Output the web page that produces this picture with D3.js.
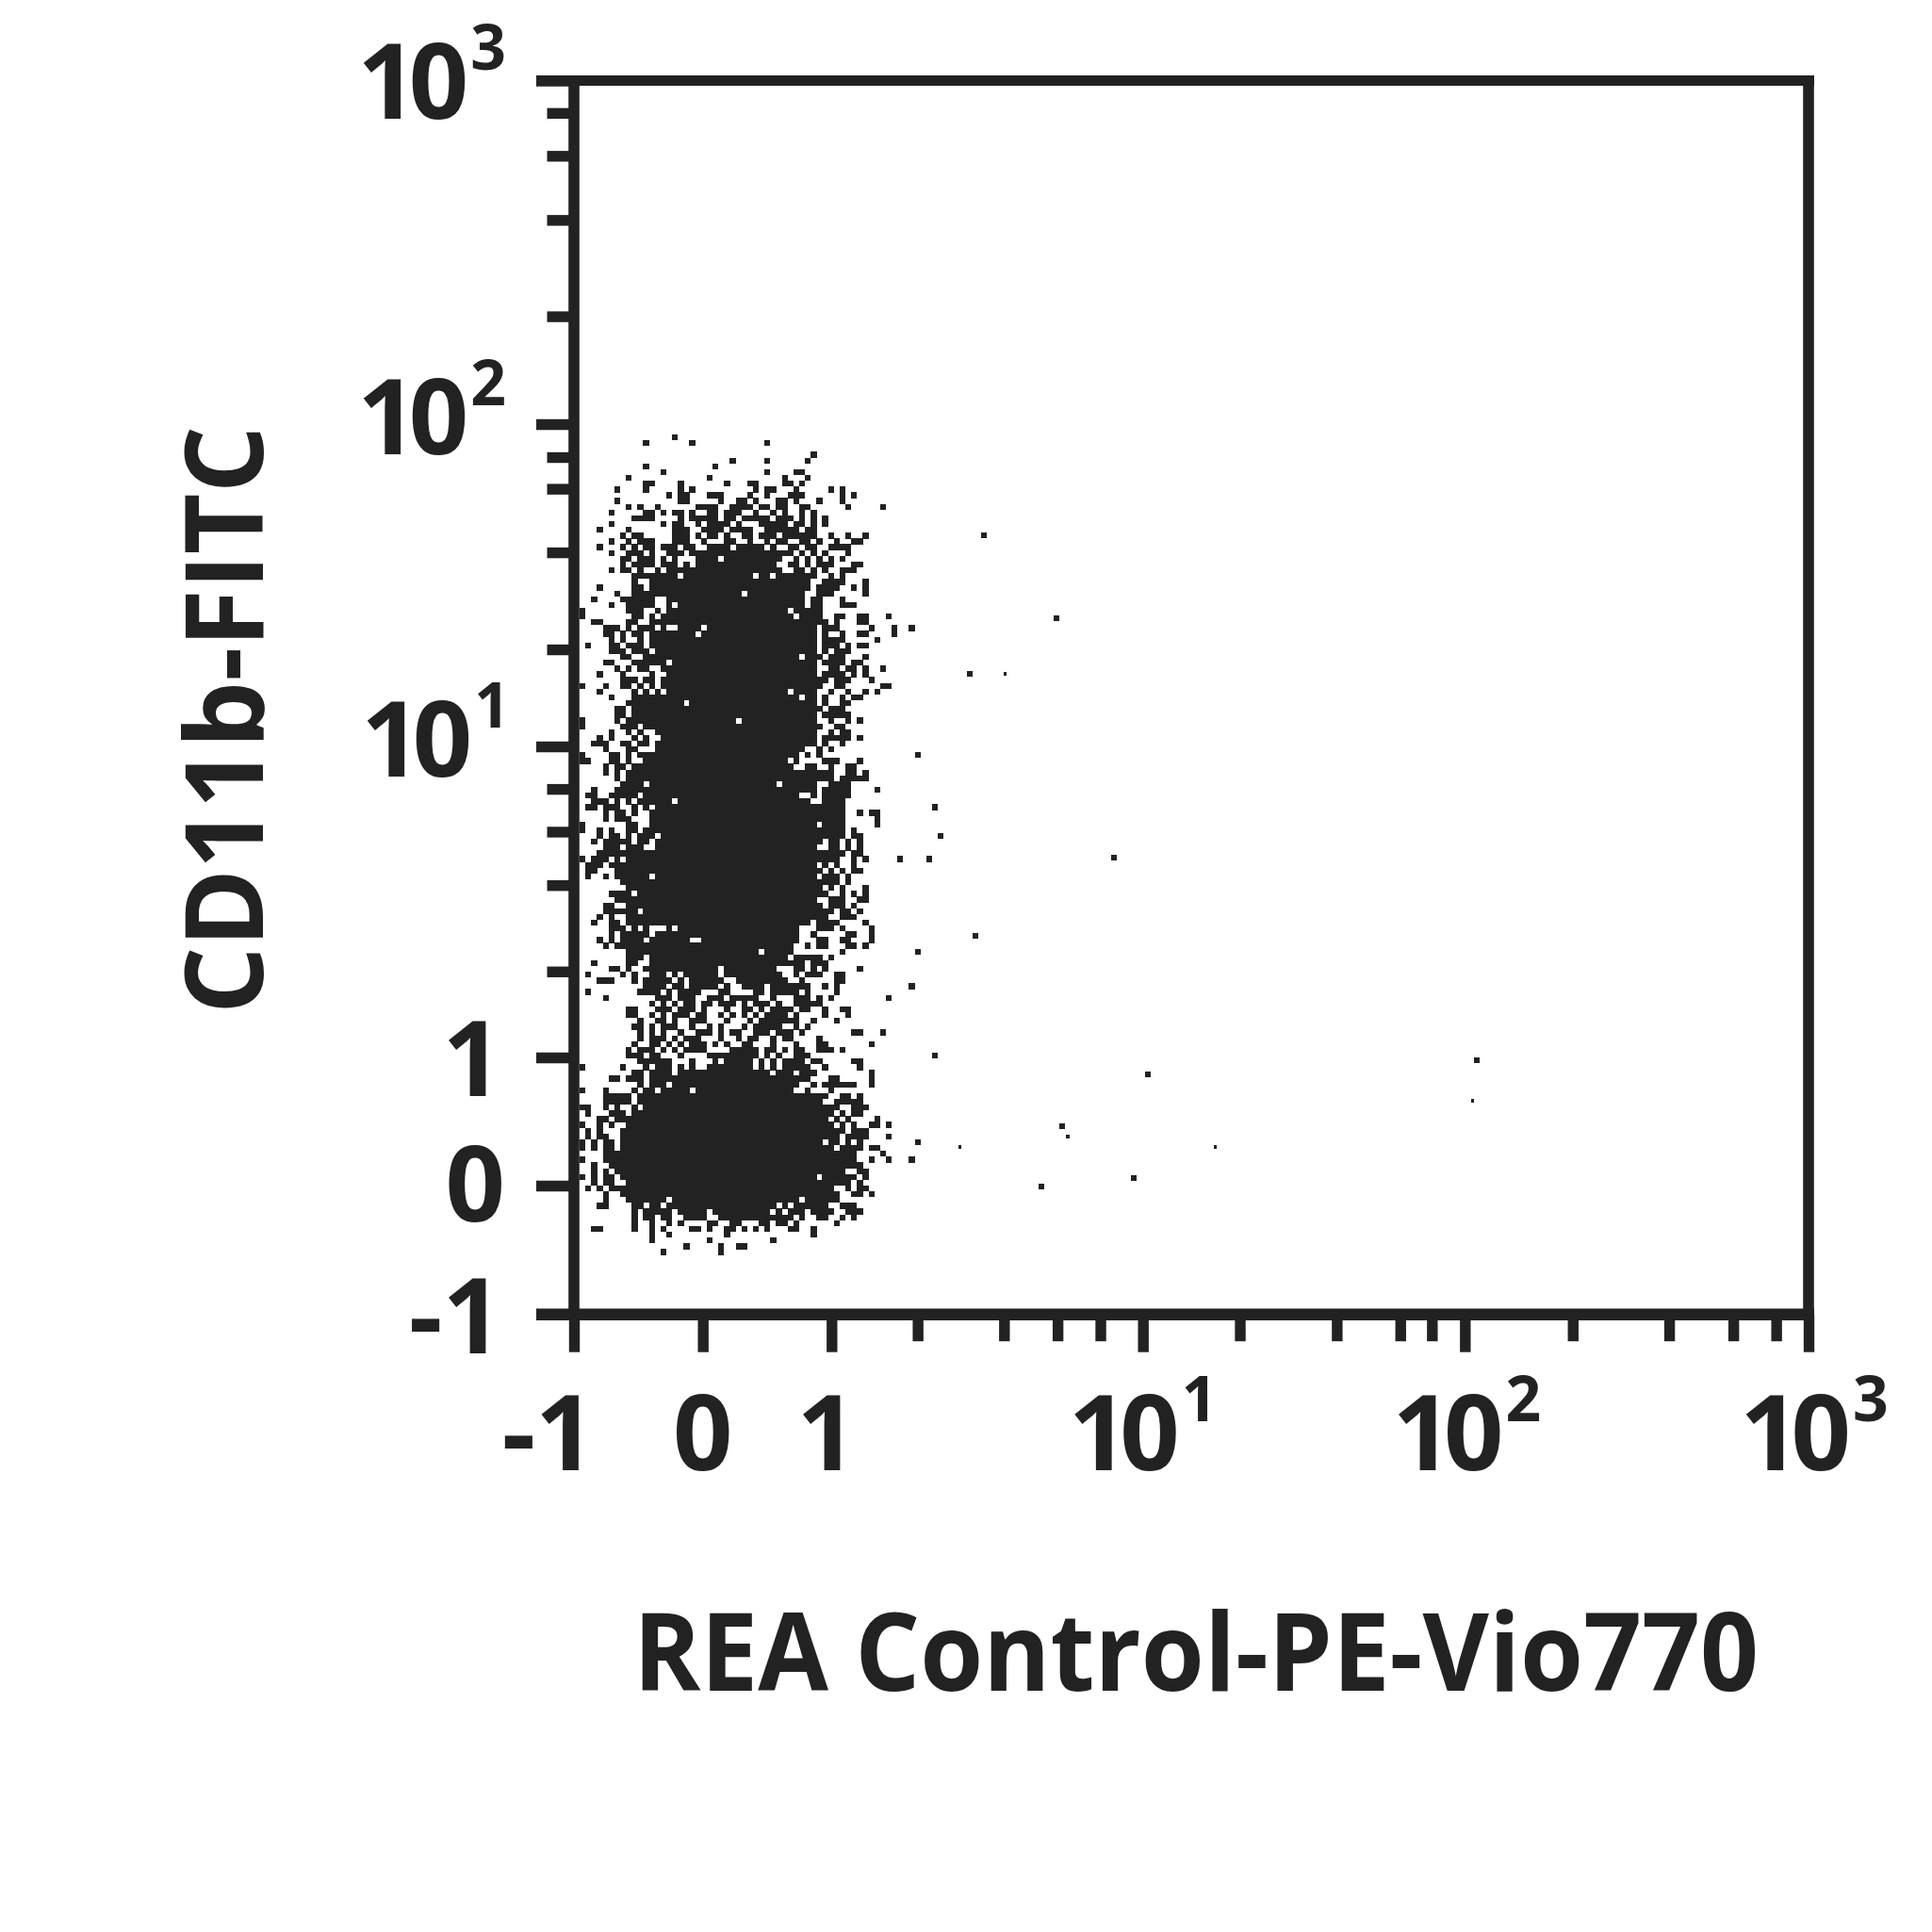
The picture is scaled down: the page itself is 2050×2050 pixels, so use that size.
<!DOCTYPE html>
<html><head><meta charset="utf-8">
<script src="https://cdn.jsdelivr.net/npm/d3@7/dist/d3.min.js"></script>
<style>html,body{margin:0;padding:0;background:#fff}svg{display:block}</style></head>
<body><svg id="c" width="2050" height="2050"></svg>
<script>
const xTitle = "REA Control-PE-Vio770";
const yTitle = "CD11b-FITC";
const majorTicks = [-1, 0, 1, 10, 100, 1000];
const minorTicks = [1.89, 3.58, 5.32, 7.3, 20, 40, 63, 79, 206, 393, 604, 805];
const tickLabels = [["-1",""],["0",""],["1",""],["10","1"],["10","2"],["10","3"]];

// occupied density-plot bins, one entry per bin row (top to bottom), as column runs
const binRows = [
"16","11 19 32","","40","26 32 39","11 23","14 32 37 38","8 22 35 39",
"11 12 17 25 29 30 35 36 38","6 11 17 19 30 32 33 37 43 45",
"15 17 18 22-24 29 32 36-38 45 47","6 17 18 24 27 28 30 34 35 37 41 45",
"8 10 13 20-23 26-29 31 32 34 35 38 39 46 52","5 11 12 14 16 17 19 22 23 25-27 30 33 35 38 40",
"9-12 17 19-23 25 26 28-32 34-36 38 40 42","5 14 16 17 20 22-25 27 31-35 37 38 40 42",
"3 8 16-18 21-24 26-29 32-37 39 40","7 9 10 16-18 20 22 23 25 28 29 31-33 35-40 43 46 49",
"5 8 10-12 16-18 21 25 26 29 32 34 35 38 39 41 44 47 48","3 7 9 11 12 14-16 18 19 22-25 27-31 33 36 37 39 40 43-46",
"5 8-10 12 15-17 19-36 38 40 42 46","7 8 10-12 14 16 20-23 25-34 37 39 41 43 45",
"7 9-12 14-16 18 20-33 36 37 39 41-43 47 48","5 7 8 10 13 15-34 37 38 40 42 45-47",
"9-16 18-29 31 32 34-40 43 45","9 12-39 42-45 49",
"3 9 10 12-39 41-44 47 49","6 9-27 29-38 41-43 49",
"2 7-12 15-38 40 41 45","5 8-12 15 17-38 40 41 45-47",
"0 8-10 13 15-35 37-41","0 9 10 12 14-36 38-41 44 45 48 49 53",
"2 3 8 9 12-42 44 48 49","4-6 8 10-12 14 17-20 22-40 42-44 50 54 57",
"4 5 7 9 10 12-19 21-40 42 45 48 49 54","5 7 10 12-40 42-45 51",
"1 5 6 8-10 12-40 42-44 46 48 49","5-7 9-11 13-40 42 44-46",
"7 8 11-37 39-41 43-45 49","4 5 9-14 16-40 42-45 47 48",
"6 8 10 11 14-40 43 44 46 47 49 52","3 7 12 15-40 42-45 47 49",
"7-9 11 12 14-42 44-46 50","0 4 7 8 10 12 14-41 44 45 52 53",
"3 9 11 13 15-35 37-40 43 46 49 51","5 9-37 39 40 42 45 47 48",
"8-17 19-40 42 45 46","6 7 9-41 43-45",
"6 7 9-40 42-46","0 6 8-26 28-40 43 46 48",
"0 7-9 11-41 44 45","5 8 10 13-40 43 45 46",
"3 5 9 11 14-40 42-46 48","2-4 7 8 10 11 13-40 42 45",
"4 8 9 13-38 41 43","0 5 6 8 10-37 39 41 58",
"0 1 5 6 8 11-35 37 42-44 48","4 6 7 9-36 39 40 43 46 47",
"4 6 8-43 46 47 49","6 8-43 45-49",
"7-10 12-33 35-40 43-46","2 6-40 42-46 51",
"1 2 5-9 11-37 40 42-46","2-4 6 8 10-15 17-39 42-45",
"1 2 4-6 9 11 13-45 61","4 6 7 9 12-45 48 50 51",
"4 6-8 12-45 51","0 8 9 12-40 42-45 51",
"0 3 5 8 9 11-45 47","3 5 6 8 10-12 14-45 47 48 62",
"2 4-8 10 11 13-41 43 44 46 48","4-6 8-10 13-40 43 44 46 48",
"3-45 47 48","0 2-4 6 8-44 47 49 55 60",
"1-3 5-40 42 44 47","1 2 6-41 43 45 47 48",
"1 4 6-11 13-40 42-44 46","7-44 46",
"8-41 43 45 49","5-8 10-41 42 45 47 49",
"6-40 43-45 48 49","4 5 8-41 43-45 47",
"4-9 11-41 42 43 45 46 48","3 5 8-39 40-42 45-47",
"2 5 6 8-39 41-44 49","5-7 9 11 15 17-37 41-43 45 50",
"5 7-11 13-37 40 46 47 50","3 5 7-10 12-18 21-37 41 42 45 46 50",
"4 6-36 39 41 42 46 47 49","8-30 32-36 45 58",
"8-10 12-35 37-41 43","2 8 9 12-38 40-42",
"5 6 8 11-23 25-33 37 38 40 42 48","1 7 9 12-14 16 18-23 25-34 37 39-41 44 45",
"3-5 9 11-15 17 19-24 27-35 38 44 45","11-14 16 17 19-23 25 28-31 33-39 42 44 57",
"1 10-13 15 17-20 24 25 30 31 33-37 39 44","4 13-15 17-19 22-24 26-30 33 37-39 41 43 53",
"12 14 16 18 19 21 22 24-26 28 30-32 34 37-41","8 9 13-15 17-19 21 25 28 29 31 33-36 38 39 42 45 46",
"8 9 12 14 16-18 20 21 24 26 28 30 32-35 37 42 46","10 13 14 16 19-21 25 29 31-37 40 44",
"9 10 12 14-16 19 22 24 28 30-34 37 39","10 12 14 17 20-22 24 26 27 30-32 34-36 38 47 48 52",
"10 12-14 16 18-20 24 27 29 30 33 35 36 41","9 12 13 15 17 19-21 23 25 28 29 33 37 41 42 50",
"8 10-12 14 16 18-21 26-30 32 33 35 37 38 41-43 45","8-10 12 13 17 22-30 32 34 37-39 61",
"10-15 19 23 25-29 31 33 35-38 40 41 47 48","0 7 11 13-15 17 19 22-29 31 33 35-39 42 48",
"9 10 12-15 17-32 34-36 38-40 50","5 6 8-10 12-39 43 44 50",
"10 12-14 16-37 40 42-47 50","0 4 9 11 12 14-18 20-36 39 43",
"4-8 10-42 45 46 48","4-8 10-41 44-48",
"0 1 4 6 9 11-44 47-49","1 5-7 9 10-43 45 47 48",
"3 4 6-42 44 46 51","0 3 5 8-43 45 47 50 51 53",
"1 3 7-44 45 47-49","1 3 4 7-44 46-49 53",
"0 2 4 5 7-41 43 44 46 48 58","0 2 4 5 7-43 45-48 50 51",
"4-47 52","0 4-47 50 53 57",
"2 5-48","2 4 6-45 48 49",
"0 2 4 5 7-40 42-47 49","2 4 5 8-46 48",
"1 3 5-43 46 48 49","4 7-44 47 48 50",
"4 8-14 16-37 39-44","3 4 9 10 12 13 15-33 35 37-42 45-47",
"9 11-15 17-21 23-32 34 36-38 40-43 46-48","9 11 12 14 15 18-21 24-36 38 41 42 45 47",
"9 12 15 17 22 23 26 27 31 32 34 35 37 44","2 3 9 12 14 19 20 22 25 26 28 30 32 36 37 40",
"12 15 25 40","12 22 33","18 24 27 28","14 24"
];
const outlierCol  = [69.5, 82, 67, 92, 68, 97.9, 154.8, 83, 95.4, 79.4];
const outlierRow  = [17, 31.3, 40.9, 72.7, 86.3, 110.3, 107.8, 119.2, 128.2, 129.7];
const speckCol    = [73.2, 154, 84, 65.3, 109.6];
const speckRow    = [40.9, 114.8, 121, 122.8, 122.8];

const INK = "#222222";
const svg = d3.select("#c");
const t = v => v <= 1 ? v : 1 + Math.log10(v);
const x = d3.scaleLinear().domain([-1,0,1,2,3,4]).range([609,745.7,882.3,1212.7,1554.3,1919]);
const y = d3.scaleLinear().domain([-1,0,1,2,3,4]).range([1394.7,1258,1122,792,450,85.5]);
const colScale = d3.scaleLinear().domain([0,100]).range([615,1228]);
const rowScale = d3.scaleLinear().domain([0,100]).range([461,1074]);
const cw = colScale(1)-colScale(0), ch = rowScale(1)-rowScale(0);

const cells = [];
binRows.forEach((s,r)=>{ if(!s) return; s.split(" ").forEach(run=>{
  const [a,b] = run.split("-").map(Number);
  for(let c=a;c<=(b===undefined?a:b);c++) cells.push({c,r});
});});

const marks = svg.append("g").attr("shape-rendering","crispEdges").attr("fill",INK);
marks.selectAll("rect.cell").data(cells).join("rect").attr("class","cell")
  .attr("x",d=>colScale(d.c)).attr("y",d=>rowScale(d.r)).attr("width",cw+.2).attr("height",ch+.2);
marks.selectAll("rect.out").data(outlierCol.map((c,i)=>({c,r:outlierRow[i]}))).join("rect").attr("class","out")
  .attr("x",d=>colScale(d.c)).attr("y",d=>rowScale(d.r)).attr("width",cw).attr("height",ch);
marks.selectAll("rect.sp").data(speckCol.map((c,i)=>({c,r:speckRow[i]}))).join("rect").attr("class","sp")
  .attr("x",d=>colScale(d.c+.25)).attr("y",d=>rowScale(d.r+.15)).attr("width",cw*.5).attr("height",ch*.7);

function ticks(axisFn, scale, vals, len, tr){
  const g = svg.append("g").attr("transform",tr)
    .call(axisFn(scale).tickValues(vals.map(t)).tickSize(len).tickSizeOuter(0).tickFormat(""));
  g.select(".domain").remove();
  g.selectAll("line").attr("stroke",INK).attr("stroke-width",11.4).attr("stroke-linecap","butt");
}
ticks(d3.axisBottom,x,majorTicks,40,`translate(0,${y(-1)})`);
ticks(d3.axisBottom,x,minorTicks,28.5,`translate(0,${y(-1)})`);
ticks(d3.axisLeft,y,majorTicks,40,`translate(${x(-1)},0)`);
ticks(d3.axisLeft,y,minorTicks,28.5,`translate(${x(-1)},0)`);

const frame = svg.append("g").attr("stroke",INK).attr("fill","none");
frame.append("line").attr("x1",x(-1)).attr("x2",x(-1)).attr("y1",y(4)-5.5).attr("y2",y(-1)).attr("stroke-width",11.6);
frame.append("line").attr("x1",x(4)).attr("x2",x(4)).attr("y1",y(4)-5.5).attr("y2",y(-1)).attr("stroke-width",11.6);
frame.append("line").attr("x1",x(-1)-40).attr("x2",x(4)+6).attr("y1",y(4)).attr("y2",y(4)).attr("stroke-width",11);
frame.append("line").attr("x1",x(-1)-40).attr("x2",x(4)+6).attr("y1",y(-1)).attr("y2",y(-1)).attr("stroke-width",12.6);

const FONT = "'Open Sans',sans-serif";
function label(g,px,py,anchor,pair){
  const tx = g.append("text").attr("x",px).attr("y",py).attr("text-anchor",anchor)
    .attr("font-family",FONT).attr("font-weight",700).attr("font-size",111).attr("fill",INK);
  const main = tx.append("tspan").text(pair[0]);
  if(pair[1]){
    main.attr("letter-spacing",-9);
    tx.append("tspan").attr("dy",-52).attr("dx",11).attr("font-size",66).text(pair[1]);
  }
}
const xl = svg.append("g"), yl = svg.append("g");
const xOff = [-27,0,-5,0,2,6];
majorTicks.forEach((v,i)=>label(xl,x(t(v))+xOff[i],1560,"middle",tickLabels[i]));
const yBase = [41,38,41,32,32,40.5];
const yEnd = [533,536,533,541,537,537];
majorTicks.forEach((v,i)=>label(yl,yEnd[i],y(t(v))+yBase[i],"end",tickLabels[i]));

svg.append("text").attr("x",672).attr("y",1794)
  .attr("font-family",FONT).attr("font-weight",700).attr("font-size",115).attr("fill",INK)
  .attr("textLength",1194).attr("lengthAdjust","spacingAndGlyphs").text(xTitle);
svg.append("text").attr("transform","translate(279,1076) rotate(-90)")
  .attr("font-family",FONT).attr("font-weight",700).attr("font-size",115).attr("fill",INK)
  .attr("textLength",624).attr("lengthAdjust","spacingAndGlyphs").text(yTitle);
</script></body></html>
